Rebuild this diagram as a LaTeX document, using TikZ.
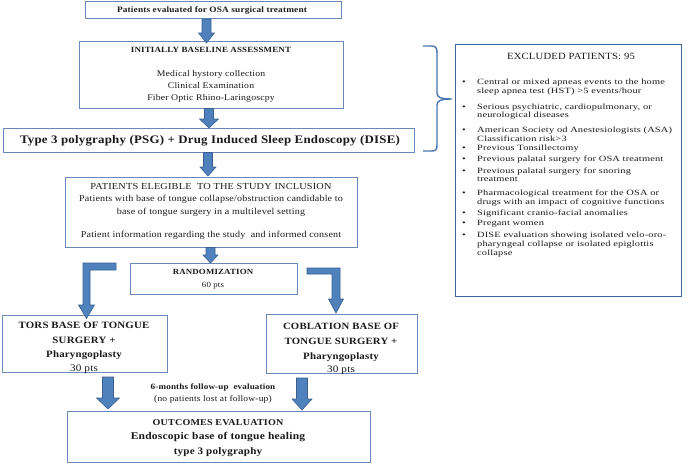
\documentclass[tikz,border=0pt]{standalone}
\usepackage{fontspec}
\setmainfont{Liberation Serif}[FakeStretch=1.12, LetterSpace=2]
\newfontfamily\exfont{Liberation Serif}[FakeStretch=1.3, LetterSpace=2]
\usetikzlibrary{calc}
\definecolor{boxline}{HTML}{6A89B8}
\definecolor{exline}{HTML}{3F659A}
\definecolor{braceline}{HTML}{4A76B0}
\definecolor{arrfill}{HTML}{4F81BD}
\definecolor{arrline}{HTML}{3A5F8F}
\definecolor{txt}{HTML}{1A1A1A}
\newcommand\dnarrow[5]{%
  \draw[barrow] let \p1=(#1), \p2=(#2) in
    (\x1-#3pt,\y1) -- (\x1+#3pt,\y1) -- (\x1+#3pt,\y2+#5pt) -- (\x1+#4pt,\y2+#5pt)
    -- (\x1,\y2) -- (\x1-#4pt,\y2+#5pt) -- (\x1-#3pt,\y2+#5pt) -- cycle;}
\newcommand\fs[1]{\fontsize{#1}{#1}\selectfont}
\begin{document}
\begin{tikzpicture}[x=1pt,y=-1pt,
  box/.style={draw=boxline, line width=0.85pt, inner sep=0, anchor=north west},
  ln/.style={text=txt, inner sep=0, anchor=mid},
  ex/.style={text=txt, inner sep=0, anchor=mid west, font=\exfont\fs{8}},
  bul/.style={text=txt, inner sep=0, anchor=mid, font=\exfont\fs{8}},
  barrow/.style={fill=arrfill, draw=arrline, line width=0.6pt, line join=miter}]
\useasboundingbox[fill=white] (0,0) rectangle (685,464);

% boxes
\node[box, minimum width=256pt, minimum height=17pt] (b1) at (85,1) {};
\node[box, minimum width=264pt, minimum height=67pt] (b2) at (79,41) {};
\node[box, minimum width=411pt, minimum height=24pt] (b3) at (3,128) {};
\node[box, minimum width=292pt, minimum height=70pt] (b4) at (65,177) {};
\node[box, minimum width=167pt, minimum height=31pt] (b5) at (130,263) {};
\node[box, minimum width=165pt, minimum height=57pt] (b6) at (2,315) {};
\node[box, minimum width=151pt, minimum height=59pt] (b7) at (266,314) {};
\node[box, minimum width=303pt, minimum height=51pt] (b8) at (67,411) {};
\node[box, draw=exline, line width=1.3pt, minimum width=226pt, minimum height=252pt] (ex) at (455,44) {};

% texts
\node[ln, font=\fs{8.3}\bfseries] (t1) at (212,10) {Patients evaluated for OSA surgical treatment};
\node[ln, font=\fs{8}\bfseries] (t2a) at (211,50) {INITIALLY BASELINE ASSESSMENT};
\node[ln, font=\fs{8.7}] (t2b) at (211,74) {Medical hystory collection};
\node[ln, font=\fs{8.7}] (t2c) at (211,86) {Clinical Examination};
\node[ln, font=\fs{8.7}] (t2d) at (211,98) {Fiber Optic Rhino-Laringoscpy};
\node[ln, font=\fs{11.5}\bfseries] (t3) at (210,141) {Type 3 polygraphy (PSG) + Drug Induced Sleep Endoscopy (DISE)};
\node[ln, font=\fs{9.2}] (t4a) at (211,187) {PATIENTS ELEGIBLE\ \ TO THE STUDY INCLUSION};
\node[ln, font=\fs{9}] (t4b) at (211,199) {Patients with base of tongue collapse/obstruction candidable to};
\node[ln, font=\fs{9}] (t4c) at (211,212) {base of tongue surgery in a multilevel setting};
\node[ln, font=\fs{9}] (t4d) at (211,235) {Patient information regarding the study\ \ and informed consent};
\node[ln, font=\fs{7.9}\bfseries] (t5a) at (213,272) {RANDOMIZATION};
\node[ln, font=\fs{7.9}] (t5b) at (213,285) {60 pts};
\node[ln, font=\fs{9.7}\bfseries] (t6a) at (84,326) {TORS BASE OF TONGUE};
\node[ln, font=\fs{9.7}\bfseries] (t6b) at (84,341) {SURGERY +};
\node[ln, font=\fs{9.7}\bfseries] (t6c) at (84,355) {Pharyngoplasty};
\node[ln, font=\fs{10}] (t6d) at (84,369) {30 pts};
\node[ln, font=\fs{9.6}\bfseries] (t7a) at (341,327) {COBLATION BASE OF};
\node[ln, font=\fs{9.6}\bfseries] (t7b) at (341,342) {TONGUE SURGERY +};
\node[ln, font=\fs{9.7}\bfseries] (t7c) at (341,357) {Pharyngoplasty};
\node[ln, font=\fs{10}] (t7d) at (341,370) {30 pts};
\node[ln, font=\fs{8.1}\bfseries] (t9a) at (213,387) {6-months follow-up\ \ evaluation};
\node[ln, font=\fs{8.5}] (t9b) at (213,399) {(no patients lost at follow-up)};
\node[ln, font=\fs{9}\bfseries] (t8a) at (218,423) {OUTCOMES EVALUATION};
\node[ln, font=\fs{10.3}\bfseries] (t8b) at (218,437) {Endoscopic base of tongue healing};
\node[ln, font=\fs{9.9}\bfseries] (t8c) at (218,452) {type 3 polygraphy};

% excluded list
\node[ln, font=\fs{9.5}] (tex) at (571,57) {EXCLUDED PATIENTS: 95};
\foreach \y/\n in {82/1,107/2,130/3,148/4,159/5,171/6,193/7,213/8,223/9,235/10}
  \node[bul] (bu\n) at (464,\y) {\textbullet};
\node[ex] (e1a) at (477,82) {Central or mixed apneas events to the home};
\node[ex] (e1b) at (477,91) {sleep apnea test (HST) >5 events/hour};
\node[ex] (e2a) at (477,107) {Serious psychiatric, cardiopulmonary, or};
\node[ex] (e2b) at (477,115) {neurological diseases};
\node[ex] (e3a) at (477,130) {American Society od Anestesiologists (ASA)};
\node[ex] (e3b) at (477,139) {Classification risk>3};
\node[ex] (e4) at (477,148) {Previous Tonsillectomy};
\node[ex] (e5) at (477,159) {Previous palatal surgery for OSA treatment};
\node[ex] (e6a) at (477,171) {Previous palatal surgery for snoring};
\node[ex] (e6b) at (477,179) {treatment};
\node[ex] (e7a) at (477,193) {Pharmacological treatment for the OSA or};
\node[ex] (e7b) at (477,202) {drugs with an impact of cognitive functions};
\node[ex] (e8) at (477,213) {Significant cranio-facial anomalies};
\node[ex] (e9) at (477,223) {Pregant women};
\node[ex] (e10a) at (477,235) {DISE evaluation showing isolated velo-oro-};
\node[ex] (e10b) at (477,244) {pharyngeal collapse or isolated epiglottis};
\node[ex] (e10c) at (477,253) {collapse};

% brace
\draw[draw=braceline, line width=1.4pt] (423,46) -- (431,46) .. controls (436,46) and (437,48) .. (437,53)
  -- (437,93) .. controls (437,97) and (440,99) .. (452,99)
  .. controls (440,99) and (437,101) .. (437,105) -- (437,145)
  .. controls (437,150) and (436,151) .. (431,151) -- (423,151);

% arrow end points
\coordinate (a1s) at (206.5,19); \coordinate (a1e) at (206.5,43);
\coordinate (a2s) at (209,108.5); \coordinate (a2e) at (209,128);
\coordinate (a3s) at (208,152.5); \coordinate (a3e) at (208,176);
\coordinate (a4s) at (210.5,247.5); \coordinate (a4e) at (210.5,263);
\coordinate (a5s) at (108,377); \coordinate (a5e) at (108,409);
\coordinate (a6s) at (302,378); \coordinate (a6e) at (302,410);
\dnarrow{a1s}{a1e}{4.5}{8}{10}
\dnarrow{a2s}{a2e}{4.5}{9.5}{9}
\dnarrow{a3s}{a3e}{4.5}{8}{9}
\dnarrow{a4s}{a4e}{4.5}{7.5}{8}
\dnarrow{a5s}{a5e}{5.5}{11.5}{11}
\dnarrow{a6s}{a6e}{5.5}{10}{11}

% L-shaped arrows
\coordinate (la) at (116,266.5);
\coordinate (ra) at (307,271);
\draw[barrow] (la) ++(0,-3.5) -- (83,263) -- (83,305) -- (78.5,305) -- (86.5,318.5) -- (94.5,305)
  -- (90,305) -- (90,270) -- (116,270) -- cycle;
\draw[barrow] (ra) ++(0,-3) -- (340,268) -- (340,299) -- (343.5,299) -- (336,313) -- (328.5,299)
  -- (332,299) -- (332,274) -- (307,274) -- cycle;
\end{tikzpicture}
\end{document}
